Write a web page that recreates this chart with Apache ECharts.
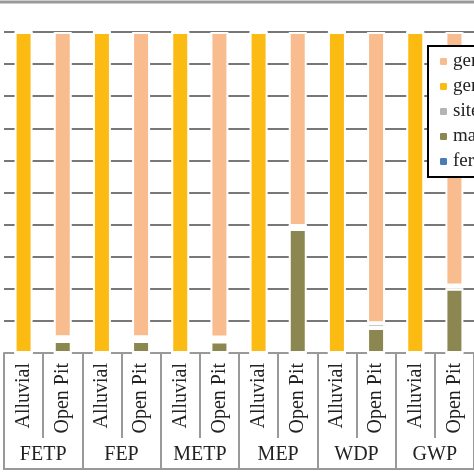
<!DOCTYPE html>
<html><head><meta charset="utf-8">
<script src="https://cdn.jsdelivr.net/npm/echarts@6/dist/echarts.min.js"></script>
<style>html,body{margin:0;padding:0;background:#fff}#c{width:474px;height:474px}</style>
</head><body><div id="c"></div>
<script>
var groups = ['FETP', 'FEP', 'METP', 'MEP', 'WDP', 'GWP'];
var sites = ['Alluvial', 'Open Pit'];
var categories = [];
groups.forEach(function (g) { sites.forEach(function (s) { categories.push(s); }); });

var seriesNames = ['general processing', 'general mining', 'site works', 'machinery', 'fertilizer'];
var seriesColors = ['#f8bc8f', '#fbbb12', '#b4b4b4', '#8c8650', '#4a7cb8'];
var feValues = [0, 0, 0, 0, 0, 0, 0, 0, 0, 0, 0, 0];
var mValues = [0, 3.7, 0, 3.7, 0, 3.6, 0, 38.6, 0, 7.8, 0, 20];
var siValues = [0, 1.2, 0, 1.2, 0, 1.2, 0, 1.0, 0, 1.5, 0, 1.0];
var goldValues = [100, 0, 100, 0, 100, 0, 100, 0, 100, 0, 100, 0];
var peachValues = [0, 95.1, 0, 95.1, 0, 95.2, 0, 60.4, 0, 90.7, 0, 79];

var data = [peachValues, goldValues, siValues, mValues, feValues];
var order = [4, 3, 2, 1, 0];
var font = 'Liberation Serif';

var chart = echarts.init(document.getElementById('c'));
chart.setOption({
  animation: false,
  grid: { left: 4, right: -5, top: 32, bottom: 121 },
  legend: {
    left: 428, top: 46, orient: 'vertical', itemWidth: 9, itemHeight: 9, itemGap: 6,
    borderColor: '#000', borderWidth: 2, padding: [6, 40, 6, 10],
    backgroundColor: '#fff',
    textStyle: { fontFamily: font, fontSize: 19, color: '#222' },
    data: seriesNames
  },
  xAxis: [
    { type: 'category', data: categories, position: 'bottom',
      axisLine: { show: true, lineStyle: { color: '#999', width: 2 } },
      axisTick: { show: true, length: 85, interval: 0, lineStyle: { color: '#999', width: 2 } },
      axisLabel: { rotate: 90, interval: 0, fontFamily: font, fontSize: 20, color: '#222', margin: 10 } },
    { type: 'category', data: groups, position: 'bottom',
      axisLine: { show: false },
      axisTick: { show: true, length: 117, interval: 0, lineStyle: { color: '#999', width: 2 } },
      axisLabel: { interval: 0, fontFamily: font, fontSize: 20, color: '#222', margin: 92 } },
    { type: 'category', data: groups, position: 'bottom', offset: 116,
      axisLine: { show: true, lineStyle: { color: '#999', width: 2 } },
      axisTick: { show: false }, axisLabel: { show: false } }
  ],
  yAxis: { type: 'value', min: 0, max: 100, interval: 10,
    axisLabel: { show: false }, axisLine: { show: false }, axisTick: { show: false },
    splitLine: { lineStyle: { color: '#777', width: 2 } } },
  series: order.map(function (i) {
    return {
      name: seriesNames[i], type: 'bar', stack: 'all', data: data[i],
      barWidth: 18,
      itemStyle: { color: seriesColors[i], borderColor: '#fff', borderWidth: 2 }
    };
  }),
  graphic: [{ type: 'line', shape: { x1: 0, y1: 2, x2: 474, y2: 2 }, style: { stroke: '#999', lineWidth: 3 } }]
});
</script></body></html>
